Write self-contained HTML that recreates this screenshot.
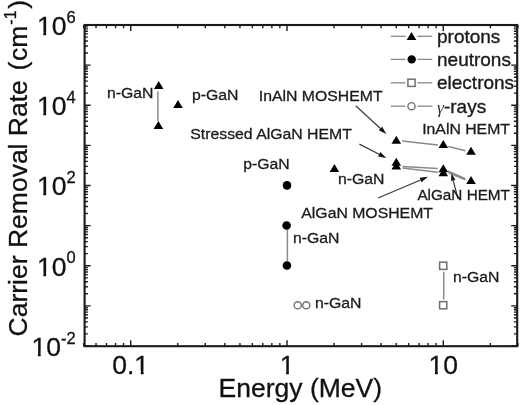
<!DOCTYPE html>
<html><head><meta charset="utf-8"><style>html,body{margin:0;padding:0;background:#fff;}svg{display:block;}</style></head>
<body>
<svg width="520" height="405" viewBox="0 0 520 405">
<rect width="520" height="405" fill="#fff"/>
<path d="M83.65 346.2v-3.3M83.65 25.0v3.3M96.03 346.2v-3.3M96.03 25.0v3.3M106.49 346.2v-3.3M106.49 25.0v3.3M115.55 346.2v-3.3M115.55 25.0v3.3M123.55 346.2v-3.3M123.55 25.0v3.3M130.70 346.2v-6.0M130.70 25.0v6.0M177.75 346.2v-3.3M177.75 25.0v3.3M205.27 346.2v-3.3M205.27 25.0v3.3M224.80 346.2v-3.3M224.80 25.0v3.3M239.95 346.2v-3.3M239.95 25.0v3.3M252.33 346.2v-3.3M252.33 25.0v3.3M262.79 346.2v-3.3M262.79 25.0v3.3M271.85 346.2v-3.3M271.85 25.0v3.3M279.85 346.2v-3.3M279.85 25.0v3.3M287.00 346.2v-6.0M287.00 25.0v6.0M334.05 346.2v-3.3M334.05 25.0v3.3M361.57 346.2v-3.3M361.57 25.0v3.3M381.10 346.2v-3.3M381.10 25.0v3.3M396.25 346.2v-3.3M396.25 25.0v3.3M408.63 346.2v-3.3M408.63 25.0v3.3M419.09 346.2v-3.3M419.09 25.0v3.3M428.15 346.2v-3.3M428.15 25.0v3.3M436.15 346.2v-3.3M436.15 25.0v3.3M443.30 346.2v-6.0M443.30 25.0v6.0M490.35 346.2v-3.3M490.35 25.0v3.3M517.87 346.2v-3.3M517.87 25.0v3.3M84.6 346.00h6.0M517.2 346.00h-6.0M84.6 333.92h3.3M517.2 333.92h-3.3M84.6 326.86h3.3M517.2 326.86h-3.3M84.6 321.84h3.3M517.2 321.84h-3.3M84.6 317.95h3.3M517.2 317.95h-3.3M84.6 314.78h3.3M517.2 314.78h-3.3M84.6 312.09h3.3M517.2 312.09h-3.3M84.6 309.76h3.3M517.2 309.76h-3.3M84.6 307.71h3.3M517.2 307.71h-3.3M84.6 305.88h6.0M517.2 305.88h-6.0M84.6 293.80h3.3M517.2 293.80h-3.3M84.6 286.73h3.3M517.2 286.73h-3.3M84.6 281.72h3.3M517.2 281.72h-3.3M84.6 277.83h3.3M517.2 277.83h-3.3M84.6 274.65h3.3M517.2 274.65h-3.3M84.6 271.97h3.3M517.2 271.97h-3.3M84.6 269.64h3.3M517.2 269.64h-3.3M84.6 267.59h3.3M517.2 267.59h-3.3M84.6 265.75h6.0M517.2 265.75h-6.0M84.6 253.67h3.3M517.2 253.67h-3.3M84.6 246.61h3.3M517.2 246.61h-3.3M84.6 241.59h3.3M517.2 241.59h-3.3M84.6 237.70h3.3M517.2 237.70h-3.3M84.6 234.53h3.3M517.2 234.53h-3.3M84.6 231.84h3.3M517.2 231.84h-3.3M84.6 229.51h3.3M517.2 229.51h-3.3M84.6 227.46h3.3M517.2 227.46h-3.3M84.6 225.62h6.0M517.2 225.62h-6.0M84.6 213.55h3.3M517.2 213.55h-3.3M84.6 206.48h3.3M517.2 206.48h-3.3M84.6 201.47h3.3M517.2 201.47h-3.3M84.6 197.58h3.3M517.2 197.58h-3.3M84.6 194.40h3.3M517.2 194.40h-3.3M84.6 191.72h3.3M517.2 191.72h-3.3M84.6 189.39h3.3M517.2 189.39h-3.3M84.6 187.34h3.3M517.2 187.34h-3.3M84.6 185.50h6.0M517.2 185.50h-6.0M84.6 173.42h3.3M517.2 173.42h-3.3M84.6 166.36h3.3M517.2 166.36h-3.3M84.6 161.34h3.3M517.2 161.34h-3.3M84.6 157.45h3.3M517.2 157.45h-3.3M84.6 154.28h3.3M517.2 154.28h-3.3M84.6 151.59h3.3M517.2 151.59h-3.3M84.6 149.26h3.3M517.2 149.26h-3.3M84.6 147.21h3.3M517.2 147.21h-3.3M84.6 145.38h6.0M517.2 145.38h-6.0M84.6 133.30h3.3M517.2 133.30h-3.3M84.6 126.23h3.3M517.2 126.23h-3.3M84.6 121.22h3.3M517.2 121.22h-3.3M84.6 117.33h3.3M517.2 117.33h-3.3M84.6 114.15h3.3M517.2 114.15h-3.3M84.6 111.47h3.3M517.2 111.47h-3.3M84.6 109.14h3.3M517.2 109.14h-3.3M84.6 107.09h3.3M517.2 107.09h-3.3M84.6 105.25h6.0M517.2 105.25h-6.0M84.6 93.17h3.3M517.2 93.17h-3.3M84.6 86.11h3.3M517.2 86.11h-3.3M84.6 81.09h3.3M517.2 81.09h-3.3M84.6 77.20h3.3M517.2 77.20h-3.3M84.6 74.03h3.3M517.2 74.03h-3.3M84.6 71.34h3.3M517.2 71.34h-3.3M84.6 69.01h3.3M517.2 69.01h-3.3M84.6 66.96h3.3M517.2 66.96h-3.3M84.6 65.12h6.0M517.2 65.12h-6.0M84.6 53.05h3.3M517.2 53.05h-3.3M84.6 45.98h3.3M517.2 45.98h-3.3M84.6 40.97h3.3M517.2 40.97h-3.3M84.6 37.08h3.3M517.2 37.08h-3.3M84.6 33.90h3.3M517.2 33.90h-3.3M84.6 31.22h3.3M517.2 31.22h-3.3M84.6 28.89h3.3M517.2 28.89h-3.3M84.6 26.84h3.3M517.2 26.84h-3.3" stroke="#1a1a1a" stroke-width="1.4" fill="none"/>
<rect x="84.6" y="25.0" width="432.6" height="321.2" fill="none" stroke="#1a1a1a" stroke-width="2.1"/>
<text x="75.6" y="34.80" font-family="Liberation Sans, Arial, sans-serif" font-size="26.5" text-anchor="end" fill="#111" stroke="#111" stroke-width="0.3" class="one">10<tspan font-size="16.5" dy="-12.1">6</tspan></text>
<text x="75.6" y="115.05" font-family="Liberation Sans, Arial, sans-serif" font-size="26.5" text-anchor="end" fill="#111" stroke="#111" stroke-width="0.3" class="one">10<tspan font-size="16.5" dy="-12.1">4</tspan></text>
<text x="75.6" y="195.30" font-family="Liberation Sans, Arial, sans-serif" font-size="26.5" text-anchor="end" fill="#111" stroke="#111" stroke-width="0.3" class="one">10<tspan font-size="16.5" dy="-12.1">2</tspan></text>
<text x="75.6" y="275.55" font-family="Liberation Sans, Arial, sans-serif" font-size="26.5" text-anchor="end" fill="#111" stroke="#111" stroke-width="0.3" class="one">10<tspan font-size="16.5" dy="-12.1">0</tspan></text>
<text x="75.6" y="355.80" font-family="Liberation Sans, Arial, sans-serif" font-size="26.5" text-anchor="end" fill="#111" stroke="#111" stroke-width="0.3" class="one">10<tspan font-size="16.5" dy="-12.1">-2</tspan></text>
<text x="130.70" y="373.5" font-family="Liberation Sans, Arial, sans-serif" font-size="26.5" text-anchor="middle" fill="#111" stroke="#111" stroke-width="0.3" class="one">0.1</text>
<text x="287.00" y="373.5" font-family="Liberation Sans, Arial, sans-serif" font-size="26.5" text-anchor="middle" fill="#111" stroke="#111" stroke-width="0.3" class="one">1</text>
<text x="443.30" y="373.5" font-family="Liberation Sans, Arial, sans-serif" font-size="26.5" text-anchor="middle" fill="#111" stroke="#111" stroke-width="0.3" class="one">10</text>
<text x="218.6" y="397" font-family="Liberation Sans, Arial, sans-serif" font-size="26.5" fill="#111" stroke="#111" stroke-width="0.3">Energy (MeV)</text>
<text transform="translate(27,336.4) rotate(-90)" x="0" y="0" font-family="Liberation Sans, Arial, sans-serif" font-size="26.5" fill="#111" stroke="#111" stroke-width="0.3">Carrier Removal Rate <tspan dx="2.4">(</tspan><tspan dx="0.6">cm</tspan><tspan font-size="16" dy="-11" dx="1.0">-1</tspan><tspan dy="11" dx="1.6">)</tspan></text>
<line x1="157.9" y1="91.5" x2="157.9" y2="121.0" stroke="#8a8a8a" stroke-width="1.5"/>
<line x1="287.4" y1="229.6" x2="287.4" y2="261.2" stroke="#8a8a8a" stroke-width="1.5"/>
<line x1="443.7" y1="271.7" x2="443.7" y2="299.5" stroke="#8a8a8a" stroke-width="1.5"/>
<line x1="402.2" y1="141.0" x2="437.8" y2="145.0" stroke="#8a8a8a" stroke-width="1.5"/>
<line x1="448.3" y1="146.4" x2="465.5" y2="150.8" stroke="#8a8a8a" stroke-width="1.5"/>
<line x1="402.5" y1="166.6" x2="437.8" y2="168.4" stroke="#8a8a8a" stroke-width="1.5"/>
<line x1="402.5" y1="168.0" x2="437.8" y2="172.2" stroke="#8a8a8a" stroke-width="1.5"/>
<line x1="447.9" y1="171.0" x2="465.3" y2="178.8" stroke="#8a8a8a" stroke-width="1.5"/>
<line x1="447.9" y1="172.4" x2="465.3" y2="179.8" stroke="#8a8a8a" stroke-width="1.5"/>
<path d="M158.70 80.90L163.50 88.90L153.90 88.90Z" fill="#000"/>
<path d="M158.40 121.00L163.20 129.00L153.60 129.00Z" fill="#000"/>
<path d="M178.00 99.90L182.80 107.90L173.20 107.90Z" fill="#000"/>
<path d="M334.40 164.00L339.20 172.00L329.60 172.00Z" fill="#000"/>
<path d="M396.30 135.80L401.10 143.80L391.50 143.80Z" fill="#000"/>
<path d="M396.30 157.70L401.10 165.70L391.50 165.70Z" fill="#000"/>
<path d="M396.30 161.50L401.10 169.50L391.50 169.50Z" fill="#000"/>
<path d="M443.30 140.10L448.10 148.10L438.50 148.10Z" fill="#000"/>
<path d="M443.30 164.20L448.10 172.20L438.50 172.20Z" fill="#000"/>
<path d="M443.30 168.20L448.10 176.20L438.50 176.20Z" fill="#000"/>
<path d="M471.00 146.70L475.80 154.70L466.20 154.70Z" fill="#000"/>
<path d="M471.00 176.10L475.80 184.10L466.20 184.10Z" fill="#000"/>
<circle cx="287.0" cy="185.4" r="4.3" fill="#000"/>
<circle cx="286.6" cy="225.5" r="4.3" fill="#000"/>
<circle cx="286.9" cy="265.5" r="4.3" fill="#000"/>
<circle cx="297.7" cy="305.3" r="3.6" fill="none" stroke="#707070" stroke-width="1.4"/>
<circle cx="306.3" cy="305.3" r="3.6" fill="none" stroke="#707070" stroke-width="1.4"/>
<rect x="439.60" y="262.20" width="7.2" height="7.2" fill="none" stroke="#707070" stroke-width="1.5"/>
<rect x="439.60" y="301.60" width="7.2" height="7.2" fill="none" stroke="#707070" stroke-width="1.5"/>
<line x1="355.7" y1="105.7" x2="380.42" y2="128.48" stroke="#3a3a3a" stroke-width="1.2"/><path d="M386.3 133.9L378.72 130.32L382.11 126.64Z" fill="#111"/>
<line x1="359.4" y1="144.1" x2="379.19" y2="154.33" stroke="#3a3a3a" stroke-width="1.2"/><path d="M386.3 158.0L378.05 156.55L380.34 152.11Z" fill="#111"/>
<line x1="378.1" y1="198.0" x2="420.54" y2="179.93" stroke="#3a3a3a" stroke-width="1.2"/><path d="M427.9 176.8L421.52 182.23L419.56 177.63Z" fill="#111"/>
<line x1="458.0" y1="199.0" x2="453.27" y2="180.56" stroke="#3a3a3a" stroke-width="1.2"/><path d="M451.4 173.3L455.44 180.00L451.09 181.12Z" fill="#111"/>
<text transform="translate(107.0,97.5) scale(1,0.94)" font-family="Liberation Sans, Arial, sans-serif" font-size="15.8" fill="#1a1a1a" stroke="#1a1a1a" stroke-width="0.3">n-GaN</text>
<text transform="translate(192.0,99.8) scale(1,0.94)" font-family="Liberation Sans, Arial, sans-serif" font-size="15.8" fill="#1a1a1a" stroke="#1a1a1a" stroke-width="0.3">p-GaN</text>
<text transform="translate(258.8,101.2) scale(1,0.94)" font-family="Liberation Sans, Arial, sans-serif" font-size="15.8" fill="#1a1a1a" stroke="#1a1a1a" stroke-width="0.3">InAlN MOSHEMT</text>
<text transform="translate(190.3,138.5) scale(1,0.94)" font-family="Liberation Sans, Arial, sans-serif" font-size="15.8" fill="#1a1a1a" stroke="#1a1a1a" stroke-width="0.3">Stressed AlGaN HEMT</text>
<text transform="translate(422.2,134.0) scale(1,0.94)" font-family="Liberation Sans, Arial, sans-serif" font-size="15.8" fill="#1a1a1a" stroke="#1a1a1a" stroke-width="0.3">InAlN HEMT</text>
<text transform="translate(243.2,169.0) scale(1,0.94)" font-family="Liberation Sans, Arial, sans-serif" font-size="15.8" fill="#1a1a1a" stroke="#1a1a1a" stroke-width="0.3">p-GaN</text>
<text transform="translate(337.9,184.4) scale(1,0.94)" font-family="Liberation Sans, Arial, sans-serif" font-size="15.8" fill="#1a1a1a" stroke="#1a1a1a" stroke-width="0.3">n-GaN</text>
<text transform="translate(417.4,199.9) scale(1,0.94)" font-family="Liberation Sans, Arial, sans-serif" font-size="15.3" fill="#1a1a1a" stroke="#1a1a1a" stroke-width="0.3">AlGaN HEMT</text>
<text transform="translate(301.3,218.4) scale(1,0.94)" font-family="Liberation Sans, Arial, sans-serif" font-size="15.8" fill="#1a1a1a" stroke="#1a1a1a" stroke-width="0.3">AlGaN MOSHEMT</text>
<text transform="translate(292.9,243.3) scale(1,0.94)" font-family="Liberation Sans, Arial, sans-serif" font-size="15.8" fill="#1a1a1a" stroke="#1a1a1a" stroke-width="0.3">n-GaN</text>
<text transform="translate(314.9,307.9) scale(1,0.94)" font-family="Liberation Sans, Arial, sans-serif" font-size="15.8" fill="#1a1a1a" stroke="#1a1a1a" stroke-width="0.3">n-GaN</text>
<text transform="translate(452.9,282.0) scale(1,0.94)" font-family="Liberation Sans, Arial, sans-serif" font-size="15.8" fill="#1a1a1a" stroke="#1a1a1a" stroke-width="0.3">n-GaN</text>
<line x1="390.8" y1="36.3" x2="405.5" y2="36.3" stroke="#8a8a8a" stroke-width="1.3"/>
<line x1="417.5" y1="36.3" x2="432.3" y2="36.3" stroke="#8a8a8a" stroke-width="1.3"/>
<path d="M411.50 32.00L416.30 40.00L406.70 40.00Z" fill="#000"/>
<text x="437.0" y="42.70" font-family="Liberation Sans, Arial, sans-serif" font-size="19" fill="#1a1a1a" stroke="#1a1a1a" stroke-width="0.35">protons</text>
<line x1="390.8" y1="59.4" x2="405.5" y2="59.4" stroke="#8a8a8a" stroke-width="1.3"/>
<line x1="417.5" y1="59.4" x2="432.3" y2="59.4" stroke="#8a8a8a" stroke-width="1.3"/>
<circle cx="411.7" cy="59.4" r="4.2" fill="#000"/>
<text x="437.0" y="65.70" font-family="Liberation Sans, Arial, sans-serif" font-size="19" fill="#1a1a1a" stroke="#1a1a1a" stroke-width="0.35">neutrons</text>
<line x1="390.8" y1="82.8" x2="405.5" y2="82.8" stroke="#8a8a8a" stroke-width="1.3"/>
<line x1="417.5" y1="82.8" x2="432.3" y2="82.8" stroke="#8a8a8a" stroke-width="1.3"/>
<rect x="407.9" y="79.2" width="7.2" height="7.2" fill="none" stroke="#707070" stroke-width="1.5"/>
<text x="437.0" y="88.70" font-family="Liberation Sans, Arial, sans-serif" font-size="19" fill="#1a1a1a" stroke="#1a1a1a" stroke-width="0.35">electrons</text>
<line x1="390.8" y1="106.2" x2="405.5" y2="106.2" stroke="#8a8a8a" stroke-width="1.3"/>
<line x1="417.5" y1="106.2" x2="432.3" y2="106.2" stroke="#8a8a8a" stroke-width="1.3"/>
<circle cx="411.5" cy="106.2" r="3.6" fill="none" stroke="#707070" stroke-width="1.4"/>
<text x="437.0" y="112.60" font-family="Liberation Sans, Arial, sans-serif" font-size="19" fill="#1a1a1a" stroke="#1a1a1a" stroke-width="0.35"><tspan font-family="Liberation Serif" font-style="italic" font-size="17.5" fill="#333" stroke="none">γ</tspan>-rays</text>
<rect x="37.77" y="31.92" width="5.57" height="4.58" fill="#fff"/><rect x="46.18" y="31.92" width="5.12" height="4.58" fill="#fff"/><rect x="37.77" y="112.17" width="5.57" height="4.58" fill="#fff"/><rect x="46.18" y="112.17" width="5.12" height="4.58" fill="#fff"/><rect x="37.77" y="192.42" width="5.57" height="4.58" fill="#fff"/><rect x="46.18" y="192.42" width="5.12" height="4.58" fill="#fff"/><rect x="37.77" y="272.67" width="5.57" height="4.58" fill="#fff"/><rect x="46.18" y="272.67" width="5.12" height="4.58" fill="#fff"/><rect x="32.28" y="352.92" width="5.57" height="4.58" fill="#fff"/><rect x="40.70" y="352.92" width="5.12" height="4.58" fill="#fff"/><rect x="135.21" y="370.62" width="5.57" height="4.58" fill="#fff"/><rect x="143.63" y="370.62" width="5.12" height="4.58" fill="#fff"/><rect x="280.47" y="370.62" width="5.57" height="4.58" fill="#fff"/><rect x="288.88" y="370.62" width="5.12" height="4.58" fill="#fff"/><rect x="429.40" y="370.62" width="5.57" height="4.58" fill="#fff"/><rect x="437.81" y="370.62" width="5.12" height="4.58" fill="#fff"/>
</svg>
</body></html>
